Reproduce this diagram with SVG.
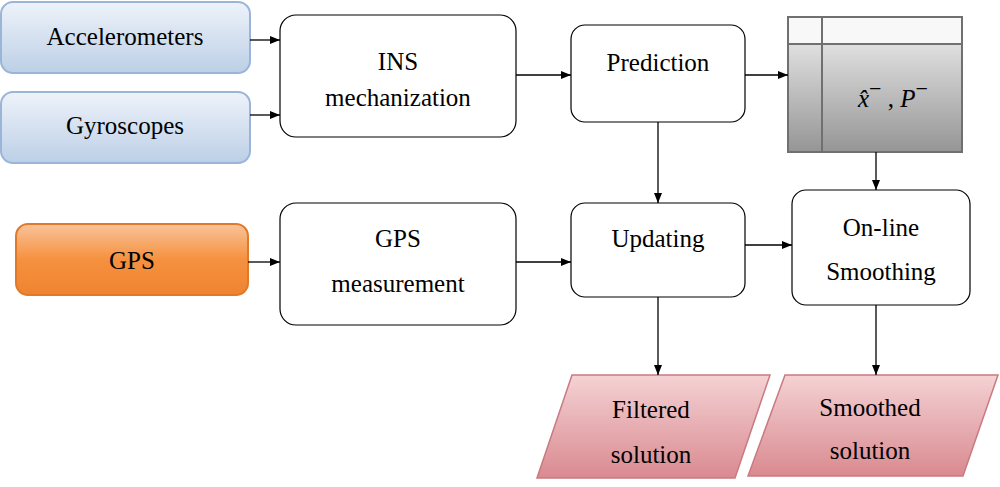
<svg xmlns="http://www.w3.org/2000/svg" width="1000" height="487" viewBox="0 0 1000 487" font-family="'Liberation Serif', 'DejaVu Serif', 'Times New Roman', serif">
<defs>
<linearGradient id="blue" x1="0" y1="0" x2="0" y2="1"><stop offset="0" stop-color="#eef3fa"/><stop offset="1" stop-color="#bccfe6"/></linearGradient>
<linearGradient id="orange" x1="0" y1="0" x2="0" y2="1"><stop offset="0" stop-color="#f9c39a"/><stop offset="0.5" stop-color="#f5913f"/><stop offset="1" stop-color="#ef8430"/></linearGradient>
<linearGradient id="gray" x1="0" y1="0" x2="0" y2="1"><stop offset="0" stop-color="#f2f2f2"/><stop offset="1" stop-color="#959595"/></linearGradient>
<linearGradient id="pink" x1="0" y1="0" x2="0" y2="1"><stop offset="0" stop-color="#f4d2d4"/><stop offset="1" stop-color="#d98a90"/></linearGradient>
<marker id="ah" markerWidth="10" markerHeight="8" refX="10" refY="4" orient="auto" markerUnits="userSpaceOnUse"><path d="M0,0 L10,4 L0,8 Z" fill="#000"/></marker>
</defs>
<style>
text{font-family:'Liberation Serif','DejaVu Serif',serif;font-size:25px;fill:#000;text-anchor:middle}
.w{fill:#fff;stroke:#000;stroke-width:1.2}
.c{stroke:#000;stroke-width:1.3;fill:none;marker-end:url(#ah)}
</style>
<rect width="1000" height="487" fill="#fff"/>
<g id="accelerometers"><rect x="1" y="2" width="249" height="71" rx="12" fill="url(#blue)" stroke="#9ab5d8" stroke-width="2"/><text x="125" y="45">Accelerometers</text></g>
<g id="gyroscopes"><rect x="1" y="92" width="249" height="71" rx="12" fill="url(#blue)" stroke="#9ab5d8" stroke-width="2"/><text x="125" y="134">Gyroscopes</text></g>
<g id="gps"><rect x="16" y="224" width="232" height="71" rx="12" fill="url(#orange)" stroke="#e07a2a" stroke-width="2"/><text x="132" y="269">GPS</text></g>
<g id="ins"><rect class="w" x="280" y="15" width="236" height="122" rx="16"/><text x="398" y="70">INS</text><text x="398" y="106">mechanization</text></g>
<g id="prediction"><rect class="w" x="571" y="25" width="174" height="97" rx="14"/><text x="658" y="71">Prediction</text></g>
<g id="gpsmeas"><rect class="w" x="280" y="203" width="236" height="122" rx="16"/><text x="398" y="247">GPS</text><text x="398" y="292">measurement</text></g>
<g id="updating"><rect class="w" x="571" y="203" width="174" height="94" rx="14"/><text x="658" y="247">Updating</text></g>
<g id="smoothing"><rect class="w" x="792" y="190" width="178" height="115" rx="14"/><text x="881" y="236">On-line</text><text x="881" y="280">Smoothing</text></g>
<g id="store"><rect x="788" y="17" width="174" height="135" fill="url(#gray)" stroke="#707070" stroke-width="2"/><rect x="788" y="17" width="174" height="27" fill="#f8f8f8" stroke="#707070" stroke-width="2"/><line x1="822" y1="17" x2="822" y2="152" stroke="#707070" stroke-width="2"/><text x="893" y="107" font-size="27"><tspan font-style="italic">x̂</tspan><tspan dy="-11" font-size="22">−</tspan><tspan dy="11"> , </tspan><tspan font-style="italic">P</tspan><tspan dy="-11" font-size="22">−</tspan></text></g>
<g id="filtered"><polygon points="572,375 770,375 735,478 537,478" fill="url(#pink)" stroke="#c97a80" stroke-width="1.5"/><text x="651" y="418">Filtered</text><text x="651" y="463">solution</text></g>
<g id="smoothed"><polygon points="785,375 998,375 963,476 748,476" fill="url(#pink)" stroke="#c97a80" stroke-width="1.5"/><text x="870" y="416">Smoothed</text><text x="870" y="459">solution</text></g>
<g id="connectors">
<path class="c" d="M250,40 H280"/>
<path class="c" d="M250,115 H280"/>
<path class="c" d="M516,75 H571"/>
<path class="c" d="M745,75 H788"/>
<path class="c" d="M658,122 V203"/>
<path class="c" d="M248,262 H280"/>
<path class="c" d="M516,262 H571"/>
<path class="c" d="M745,245 H792"/>
<path class="c" d="M876,152 V190"/>
<path class="c" d="M658,297 V375"/>
<path class="c" d="M876,305 V375"/>
</g>
</svg>
